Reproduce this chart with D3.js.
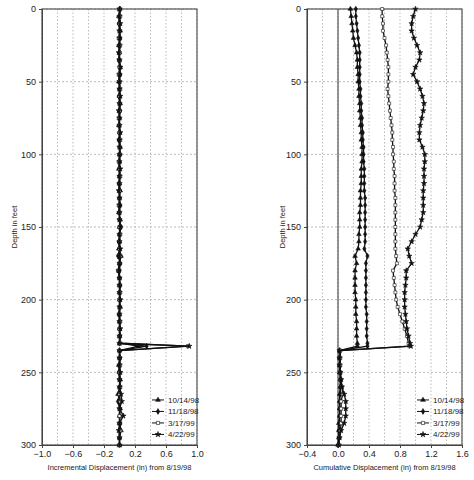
<!DOCTYPE html>
<html><head><meta charset="utf-8">
<script src="https://cdn.jsdelivr.net/npm/d3@7"></script>
<style>body{margin:0;background:#fff}text{font-family:"Liberation Sans",Arial,sans-serif;fill:#222}</style>
</head><body><svg id="c" width="474" height="480"></svg>
<script>
const depths=[0,5,10,15,20,25,30,35,40,45,50,55,60,65,70,75,80,85,90,95,100,105,110,115,120,125,130,135,140,145,150,155,160,165,170,175,180,185,190,195,200,205,210,215,220,225,230,232,235,240,245,250,255,260,265,270,275,280,285,290,295,300];
const seriesNames=["10/14/98","11/18/98","3/17/99","4/22/99"];
// incremental displacement (in)
const incA=[0,-0.01,0,0.01,0,-0.01,0,0,0.01,0,-0.01,0,0,0.01,0,0,-0.01,0,0,0.01,0,0,-0.01,0,0,0.01,0,0,-0.01,0.01,0,0,0,-0.01,0.02,0,-0.01,0,0,0,0,0.01,0,0,0,0,0,0.25,0,0,-0.01,0,0.01,0,-0.02,0,0.01,0,0,0.02,0,0];
const incB=[0.01,0,-0.01,0,0.01,0,0,-0.01,0,0.01,0,0,-0.01,0,0.01,0,0,0,-0.01,0,0.01,0,0,0,-0.01,0,0,0.01,0,0,0.02,0,-0.01,0,-0.02,0.01,0,0,0.01,0,0,0,-0.01,0,0,0.01,0,0.35,0,0.01,0,-0.01,0,0.01,0,-0.02,0,0,0.01,0,0,0];
const incC=[0,0.01,0,0,-0.01,0.01,0,0,0,-0.01,0,0.01,0,0,0,-0.01,0,0,0.01,0,0,-0.01,0,0.01,0,0,0,-0.01,0,0,0,0.01,0,0,0.01,0,-0.02,0,0,0.01,0,0,0,0.01,0,0,0.01,0.88,0,0,0.01,0,0,0.01,0,0.01,0,0,0,0.01,0,0];
const incD=[0,0,0.01,0,0,0,-0.01,0,0.01,0,0,0,0.01,0,-0.01,0,0,0.01,0,0,0,0,0.01,0,0,-0.01,0,0,0,0,0.01,0,0,0.01,0,0,-0.01,0,0,0,0.01,0,0,0,0.01,0,0,0.9,0,0,0,0.01,0,0,0.02,0.03,0,0.05,0,-0.01,0,0];
// cumulative displacement (in)
const cumA=[0.16,0.17,0.18,0.19,0.2,0.22,0.24,0.25,0.25,0.26,0.26,0.27,0.27,0.28,0.28,0.29,0.29,0.3,0.3,0.31,0.31,0.31,0.3,0.3,0.3,0.29,0.29,0.29,0.28,0.28,0.28,0.27,0.27,0.26,0.22,0.24,0.22,0.22,0.22,0.22,0.23,0.23,0.23,0.24,0.24,0.24,0.25,0.25,0.02,0.02,0.02,0.02,0.03,0.03,0.02,0.02,0.02,0.02,0.01,0.01,0.01,0.0];
const cumB=[0.23,0.23,0.24,0.25,0.26,0.27,0.28,0.28,0.28,0.28,0.28,0.29,0.29,0.3,0.3,0.31,0.31,0.32,0.32,0.33,0.33,0.33,0.34,0.34,0.34,0.34,0.35,0.35,0.35,0.35,0.35,0.35,0.35,0.34,0.38,0.36,0.36,0.36,0.36,0.36,0.36,0.36,0.37,0.37,0.37,0.37,0.38,0.38,0.02,0.02,0.02,0.03,0.03,0.03,0.03,0.02,0.02,0.02,0.02,0.01,0.01,0.0];
const cumC=[0.57,0.57,0.58,0.58,0.6,0.62,0.63,0.64,0.65,0.65,0.65,0.64,0.65,0.66,0.67,0.68,0.69,0.7,0.7,0.71,0.71,0.72,0.72,0.73,0.73,0.73,0.74,0.74,0.74,0.74,0.74,0.74,0.74,0.74,0.75,0.76,0.71,0.72,0.73,0.74,0.75,0.77,0.8,0.83,0.86,0.89,0.91,0.92,0.03,0.03,0.03,0.03,0.04,0.05,0.06,0.04,0.04,0.04,0.04,0.03,0.02,0.01];
const cumD=[1.0,0.97,0.95,0.95,0.98,1.02,1.06,1.05,1.0,0.97,1.02,1.06,1.09,1.11,1.1,1.08,1.06,1.05,1.05,1.09,1.12,1.12,1.11,1.11,1.11,1.1,1.1,1.1,1.1,1.08,1.06,1.0,0.95,0.9,0.92,0.95,0.88,0.88,0.87,0.86,0.86,0.86,0.87,0.88,0.89,0.91,0.93,0.94,0.02,0.02,0.02,0.03,0.04,0.05,0.08,0.1,0.1,0.1,0.08,0.04,0.02,0.01];
const incTicks=[-1.0,-0.6,-0.2,0.2,0.6,1.0];
const cumTicks=[-0.4,0.0,0.4,0.8,1.2,1.6];
const depthTicks=[0,50,100,150,200,250,300];

const svg=d3.select("#c");
const symbols=[d3.symbolTriangle,d3.symbolDiamond,d3.symbolSquare,d3.symbolStar];
const fills=["#111","#111","#fff","#111"];

function panel(x0,x1,dom,ticks,gridStep,data,title,zeroLine,yLabelX){
  const x=d3.scaleLinear().domain(dom).range([x0,x1]);
  const y=d3.scaleLinear().domain([0,300]).range([9,445]);
  const g=svg.append("g");
  const grid=d3.range(dom[0],dom[1]+1e-9,gridStep);
  g.selectAll(".vg").data(grid).join("line").attr("x1",d=>x(d)).attr("x2",d=>x(d)).attr("y1",y(0)).attr("y2",y(300))
    .attr("stroke","#aaa").attr("stroke-width",0.8).attr("stroke-dasharray","1.5,2");
  g.selectAll(".hg").data(depthTicks).join("line").attr("x1",x0).attr("x2",x1).attr("y1",d=>y(d)).attr("y2",d=>y(d))
    .attr("stroke","#aaa").attr("stroke-width",0.8).attr("stroke-dasharray","2,2");
  if(zeroLine) g.append("line").attr("x1",x(0)).attr("x2",x(0)).attr("y1",y(0)).attr("y2",y(300)).attr("stroke","#333").attr("stroke-width",1);
  g.append("rect").attr("x",x0).attr("y",y(0)).attr("width",x1-x0).attr("height",y(300)-y(0)).attr("fill","none").attr("stroke","#555").attr("stroke-width",1.2);
  const xa=g.append("g").attr("transform",`translate(0,${y(300)})`).call(d3.axisBottom(x).tickValues(ticks).tickFormat(d3.format(".1f")).tickSize(3));
  const ya=g.append("g").attr("transform",`translate(${x0},0)`).call(d3.axisLeft(y).tickValues(depthTicks).tickSize(3));
  [xa,ya].forEach(a=>{a.select(".domain").attr("stroke","#444");a.selectAll("text").attr("font-size",9).attr("fill","#222");a.selectAll("line").attr("stroke","#444");});
  g.append("text").attr("x",(x0+x1)/2).attr("y",470).attr("text-anchor","middle").attr("font-size",7.5).attr("fill","#222").text(title);
  g.append("text").attr("transform",`translate(${yLabelX},${y(150)}) rotate(-90)`).attr("text-anchor","middle").attr("font-size",7.5).attr("fill","#222").text("Depth in feet");
  const line=d3.line().x(d=>x(d[0])).y(d=>y(d[1]));
  data.forEach((vals,i)=>{
    const pts=vals.map((v,j)=>[v,depths[j]]);
    g.append("path").attr("d",line(pts)).attr("fill","none").attr("stroke","#111").attr("stroke-width",1.3);
    g.selectAll(null).data(pts).join("path").attr("transform",d=>`translate(${x(d[0])},${y(d[1])})`)
      .attr("d",d3.symbol().type(symbols[i]).size(9)).attr("fill",fills[i]).attr("stroke","#111").attr("stroke-width",0.6);
  });
  const lg=g.append("g");
  seriesNames.forEach((n,i)=>{
    const ly=y(269)+i*11.5, lx=x1-45;
    lg.append("line").attr("x1",lx).attr("x2",lx+12).attr("y1",ly).attr("y2",ly).attr("stroke","#111");
    lg.append("path").attr("transform",`translate(${lx+6},${ly})`).attr("d",d3.symbol().type(symbols[i]).size(10)).attr("fill",fills[i]).attr("stroke","#111").attr("stroke-width",0.6);
    lg.append("text").attr("x",lx+16).attr("y",ly+3).attr("font-size",8).attr("fill","#222").text(n);
  });
}
panel(42,197,[-1,1],incTicks,0.2,[incA,incB,incC,incD],"Incremental Displacement (in) from 8/19/98",false,17);
panel(307,462,[-0.4,1.6],cumTicks,0.2,[cumA,cumB,cumC,cumD],"Cumulative Displacement (in) from 8/19/98",true,285);
</script></body></html>
